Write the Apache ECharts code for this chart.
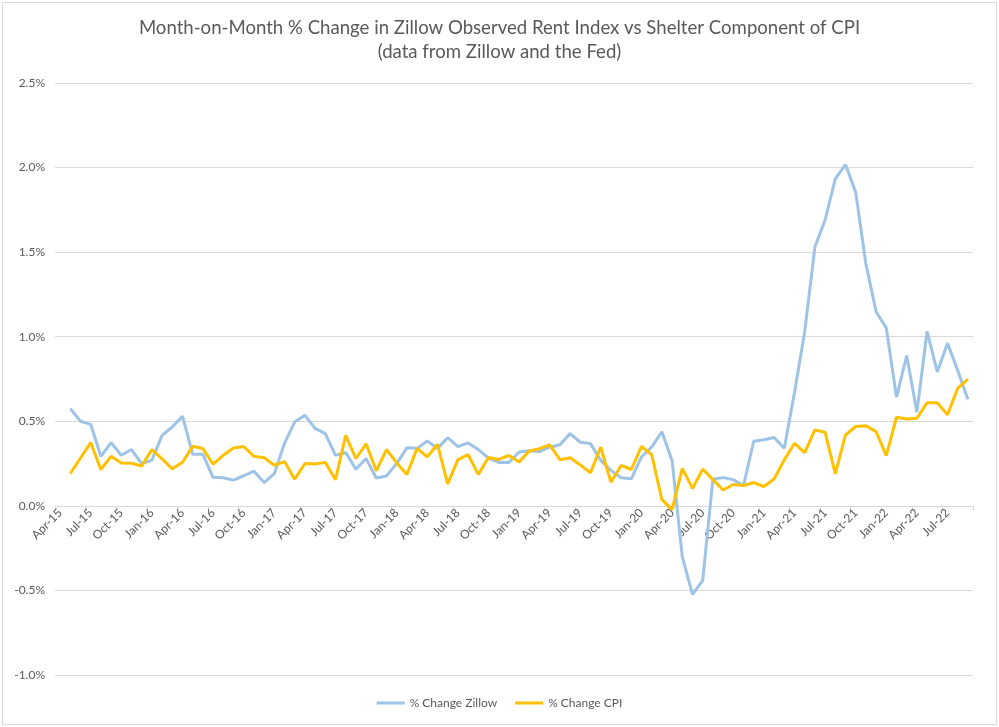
<!DOCTYPE html>
<html>
<head>
<meta charset="utf-8">
<script src="https://cdn.jsdelivr.net/npm/echarts@6/dist/echarts.min.js"></script>
<style>
html,body{margin:0;padding:0;background:#fff;}
#wrap{position:relative;width:999px;height:727px;}
#chart{position:absolute;left:0;top:0;width:999px;height:727px;}
#frame{position:absolute;left:2px;top:2px;width:993px;height:721px;border:1px solid #D9D9D9;pointer-events:none;}
</style>
</head>
<body>
<div id="wrap"><div id="chart"></div><div id="frame"></div></div>
<script>
const months = ['Jan','Feb','Mar','Apr','May','Jun','Jul','Aug','Sep','Oct','Nov','Dec'];
// Categories Apr-15 .. Sep-22
const categories = [];
for (let y = 2015, m = 3; y < 2022 || (y === 2022 && m <= 8); ) {
  categories.push(months[m] + '-' + String(y).slice(2));
  m++; if (m === 12) { m = 0; y++; }
}

// Month-on-month % change, Zillow Observed Rent Index (first category Apr-15 has no value)
const zillow = [null,
  0.575, 0.50, 0.482, 0.293, 0.374, 0.299, 0.333, 0.25, 0.27, 0.417,
  0.467, 0.53, 0.305, 0.305, 0.169, 0.166, 0.152, 0.178, 0.205, 0.138,
  0.19, 0.37, 0.497, 0.535, 0.458, 0.427, 0.299, 0.315, 0.216, 0.28,
  0.165, 0.177, 0.25, 0.343, 0.34, 0.383, 0.34, 0.403, 0.35, 0.372,
  0.333, 0.282, 0.257, 0.256, 0.318, 0.326, 0.321, 0.347, 0.361, 0.427,
  0.376, 0.368, 0.269, 0.21, 0.166, 0.16, 0.289, 0.348, 0.438, 0.266,
  -0.302, -0.523, -0.44, 0.158, 0.167, 0.155, 0.12, 0.382, 0.391, 0.404,
  0.341, 0.67, 1.03, 1.53, 1.69, 1.933, 2.018, 1.854, 1.43, 1.148,
  1.052, 0.643, 0.889, 0.554, 1.032, 0.792, 0.962, 0.80, 0.63];

// Month-on-month % change, Shelter component of CPI
const cpi = [null,
  0.191, 0.283, 0.374, 0.215, 0.293, 0.254, 0.252, 0.236, 0.333, 0.278,
  0.219, 0.258, 0.352, 0.339, 0.246, 0.299, 0.342, 0.351, 0.293, 0.285,
  0.24, 0.262, 0.158, 0.25, 0.248, 0.257, 0.155, 0.417, 0.28, 0.367,
  0.207, 0.333, 0.254, 0.186, 0.34, 0.29, 0.363, 0.13, 0.273, 0.303,
  0.186, 0.286, 0.274, 0.298, 0.259, 0.324, 0.338, 0.361, 0.273, 0.284,
  0.242, 0.195, 0.348, 0.14, 0.239, 0.215, 0.352, 0.302, 0.037, -0.022,
  0.221, 0.103, 0.217, 0.155, 0.094, 0.126, 0.12, 0.138, 0.114, 0.159,
  0.272, 0.37, 0.315, 0.449, 0.435, 0.189, 0.419, 0.469, 0.474, 0.439,
  0.297, 0.524, 0.514, 0.518, 0.61, 0.61, 0.539, 0.695, 0.75];

const seriesNames = ['% Change Zillow', '% Change CPI'];
const titleText = 'Month-on-Month % Change in Zillow Observed Rent Index vs Shelter Component of CPI\n(data from Zillow and the Fed)';

const yMin = -1, yMax = 2.5;
const gridTop = 83, gridBottom = 52, chartH = 727;
const plotH = chartH - gridTop - gridBottom;
// lift the category axis so it sits on the 0% line (like Excel's crossing)
const zeroOffset = -plotH * (0 - yMin) / (yMax - yMin);

const font = 'Lato';
const textColor = '#595959';
const chart = echarts.init(document.getElementById('chart'), null, {renderer: 'canvas'});
chart.setOption({
  animation: false,
  backgroundColor: '#fff',
  title: {
    text: titleText,
    left: 'center',
    top: 11,
    textStyle: {fontFamily: font, fontSize: 18.6, fontWeight: 'normal', color: textColor, lineHeight: 24, align: 'center'}
  },
  legend: {
    bottom: 13,
    left: 'center',
    icon: 'rect',
    itemWidth: 28,
    itemHeight: 3,
    itemGap: 18,
    textStyle: {fontFamily: font, fontSize: 12, color: textColor}
  },
  grid: {left: 55, right: 26, top: gridTop, bottom: gridBottom},
  xAxis: {
    type: 'category',
    data: categories,
    boundaryGap: true,
    offset: zeroOffset,
    axisLine: {onZero: false, lineStyle: {color: '#D9D9D9', width: 1}},
    axisTick: {show: true, interval: 2, length: 5, lineStyle: {color: '#D9D9D9'}},
    axisLabel: {interval: 2, rotate: 45, margin: 5, fontFamily: font, fontSize: 12, color: textColor},
    splitLine: {show: false}
  },
  yAxis: {
    type: 'value',
    min: yMin,
    max: yMax,
    interval: 0.5,
    axisLine: {show: false},
    axisTick: {show: false},
    axisLabel: {formatter: v => v.toFixed(1) + '%', fontFamily: font, fontSize: 12, color: textColor, margin: 10},
    splitLine: {lineStyle: {color: '#D9D9D9', width: 1}}
  },
  series: [
    {name: seriesNames[0], type: 'line', data: zillow, symbol: 'none', lineStyle: {width: 3, color: '#9DC3E6'}, itemStyle: {color: '#9DC3E6'}},
    {name: seriesNames[1], type: 'line', data: cpi, symbol: 'none', lineStyle: {width: 3, color: '#FFC000'}, itemStyle: {color: '#FFC000'}}
  ]
});
</script>
</body>
</html>
